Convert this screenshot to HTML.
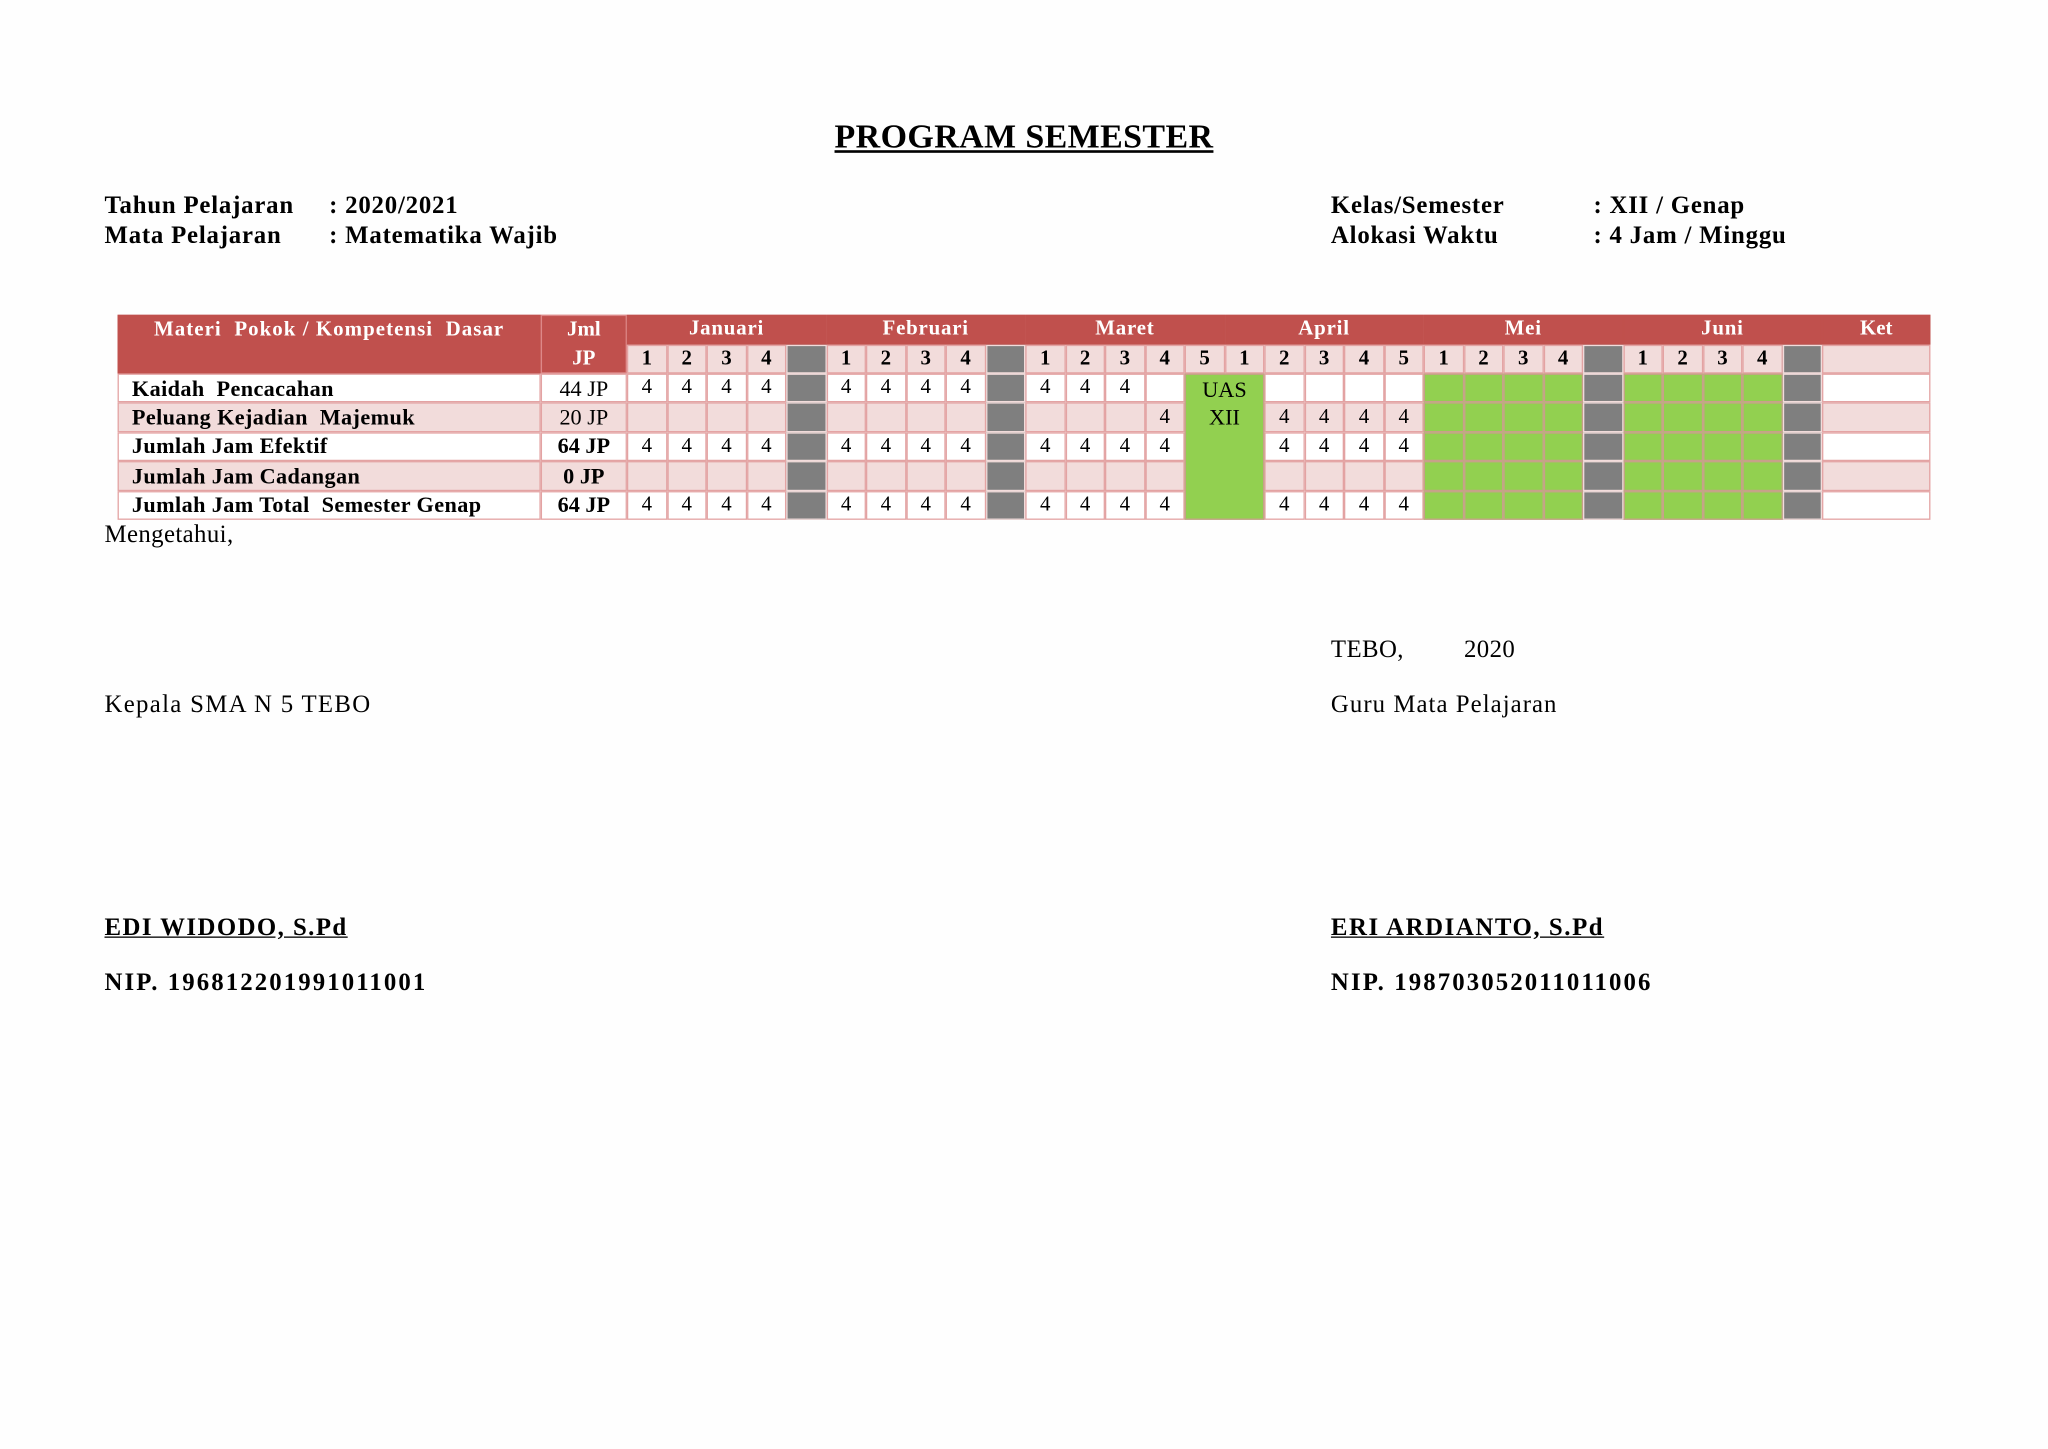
<!DOCTYPE html>
<html><head><meta charset="utf-8">
<style>
html,body{margin:0;padding:0;background:#fff;}
#page{position:absolute;left:0;top:0;width:1568px;height:1109px;transform:scale(1.30612);transform-origin:0 0;font-family:"Liberation Serif",serif;color:#000;background:#fefefe;}
.t{position:absolute;white-space:nowrap;line-height:1;}
.b{font-weight:bold;}
.i{letter-spacing:0.6px;}
.c{position:absolute;box-sizing:border-box;border:1px solid #e3a3a3;display:flex;align-items:center;justify-content:center;font-size:16px;line-height:1;}
</style></head><body>
<div id="page">
<div class="t b" style="left:0;width:1568px;text-align:center;top:92px;font-size:26px;letter-spacing:0.3px;"><span style="text-decoration:underline;">PROGRAM SEMESTER</span></div>
<div class="t b i" style="left:80px;top:148px;font-size:19px;">Tahun Pelajaran</div>
<div class="t b i" style="left:252px;top:148px;font-size:19px;">: 2020/2021</div>
<div class="t b i" style="left:80px;top:171px;font-size:19px;">Mata Pelajaran</div>
<div class="t b i" style="left:252px;top:171px;font-size:19px;">: Matematika Wajib</div>
<div class="t b i" style="left:1019px;top:148px;font-size:19px;">Kelas/Semester</div>
<div class="t b i" style="left:1220px;top:148px;font-size:19px;">: XII / Genap</div>
<div class="t b i" style="left:1019px;top:171px;font-size:19px;">Alokasi Waktu</div>
<div class="t b i" style="left:1220px;top:171px;font-size:19px;">: 4 Jam / Minggu</div>
<div id="tbl"></div>
<div class="t" style="left:80px;top:400px;font-size:19px;letter-spacing:0.3px;">Mengetahui,</div>
<div class="t" style="left:1019px;top:488px;font-size:19px;letter-spacing:0.3px;">TEBO,<span style="margin-left:46px">2020</span></div>
<div class="t" style="left:80px;top:530px;font-size:19px;letter-spacing:1px;">Kepala SMA N 5 TEBO</div>
<div class="t" style="left:1019px;top:530px;font-size:19px;letter-spacing:0.8px;">Guru Mata Pelajaran</div>
<div class="t b" style="left:80px;top:701px;font-size:19px;text-decoration:underline;letter-spacing:1.1px;">EDI WIDODO, S.Pd</div>
<div class="t b" style="left:1019px;top:701px;font-size:19px;text-decoration:underline;letter-spacing:1.2px;">ERI ARDIANTO, S.Pd</div>
<div class="t b" style="left:80px;top:743px;font-size:19px;letter-spacing:1.6px;">NIP. 196812201991011001</div>
<div class="t b" style="left:1019px;top:743px;font-size:19px;letter-spacing:1.6px;">NIP. 198703052011011006</div>
</div>
<script>
const months = ["Januari","Februari","Maret","April","Mei","Juni"];
const monthWeeks = [[1,2,3,4,"g"],[1,2,3,4,"g"],[1,2,3,4,5],[1,2,3,4,5],[1,2,3,4,"g"],[1,2,3,4,"g"]];
const rowNames = ["Kaidah  Pencacahan","Peluang Kejadian  Majemuk","Jumlah Jam Efektif","Jumlah Jam Cadangan","Jumlah Jam Total  Semester Genap"];
const rowJP = ["44 JP","20 JP","64 JP","0 JP","64 JP"];
const rowBold = [false,false,true,true,true];
const r1 = ["4","4","4","4","G","4","4","4","4","G","4","4","4","","U","U","","","","","E","E","E","E","G","E","E","E","E","G"];
const r2 = ["","","","","G","","","","","G","","","","4","U","U","4","4","4","4","E","E","E","E","G","E","E","E","E","G"];
const r3 = ["4","4","4","4","G","4","4","4","4","G","4","4","4","4","U","U","4","4","4","4","E","E","E","E","G","E","E","E","E","G"];
const r4 = ["","","","","G","","","","","G","","","","","U","U","","","","","E","E","E","E","G","E","E","E","E","G"];
const r5 = ["4","4","4","4","G","4","4","4","4","G","4","4","4","4","U","U","4","4","4","4","E","E","E","E","G","E","E","E","E","G"];
const rows = [r1,r2,r3,r4,r5];

const tbl = document.getElementById('tbl');
const X0=90, XJP=414, XW=480, CW=30.5, XKET=1395, XEND=1478;
const Y0=241, H1=22.5, RH=22.4;
const RED="#c0504d", PINK="#f2dcdb", GRAY="#7f7f7f", GREEN="#92d050";
function cell(x,y,w,h,bg,txt,style){
  const d=document.createElement('div');
  d.className='c';
  d.style.left=x+'px';d.style.top=y+'px';d.style.width=w+'px';d.style.height=h+'px';
  d.style.background=bg;
  if(style) d.style.cssText+=style;
  if(txt!==undefined) d.textContent=txt;
  tbl.appendChild(d);
  return d;
}
let h=cell(X0,Y0,XJP-X0,H1*2,RED,"Materi  Pokok / Kompetensi  Dasar","color:#fff;font-weight:bold;align-items:flex-start;padding-top:3px;white-space:pre;letter-spacing:0.8px;border-color:"+RED);


h=cell(XJP,Y0,XW-XJP,H1*2,RED,"Jml\nJP","color:#fff;font-weight:bold;white-space:pre;text-align:center;line-height:22px;border-color:#d88;");


let col=0;
months.forEach((m,i)=>{
  const n=monthWeeks[i].length;
  const mx=XW+col*CW;
  const mh=cell(mx,Y0,n*CW,H1,RED,m,"color:#fff;font-weight:bold;letter-spacing:0.6px;border-color:"+RED);
  
  
  monthWeeks[i].forEach((w,j)=>{
    const x=XW+(col+j)*CW;
    const wc=cell(x,Y0+H1,CW,H1,w==="g"?GRAY:PINK,w==="g"?"":String(w),"font-weight:bold;"+(w==="g"?"border-color:"+PINK:""));
    
    
  });
  col+=n;
});
h=cell(XKET,Y0,XEND-XKET,H1,RED,"Ket","color:#fff;font-weight:bold;border-color:"+RED);


h=cell(XKET,Y0+H1,XEND-XKET,H1,PINK,"");


const YB=Y0+2*H1;
rows.forEach((r,ri)=>{
  const y=YB+ri*RH;
  const bg=ri%2===0?"#fff":PINK;
  const fw=rowBold[ri]?"bold":"normal";
  let c=cell(X0,y,XJP-X0,RH,bg,rowNames[ri],"justify-content:flex-start;padding-left:10px;font-weight:bold;font-size:17px;white-space:pre;letter-spacing:0.3px;");
  
  
  c=cell(XJP,y,XW-XJP,RH,bg,rowJP[ri],"font-weight:"+fw+";font-size:17px;");
  
  
  r.forEach((v,ci)=>{
    const x=XW+ci*CW;
    if(v==="U") return;
    let b=bg,t=v,st="";
    if(v==="G"){b=GRAY;t="";st="border-color:"+PINK;}
    if(v==="E"){b=GREEN;t="";st="border-color:#c8a08a";}
    const wc=cell(x,y,CW,RH,b,t,st);
    
    
  });
  c=cell(XKET,y,XEND-XKET,RH,bg,"");
  
  
});
const ui=r1.indexOf("U");
const u=cell(XW+ui*CW,YB,2*CW,5*RH,GREEN,"UAS\nXII","white-space:pre;text-align:center;align-items:flex-start;padding-top:1px;line-height:21px;font-size:17px;border-color:#c8a08a");


</script>
</body></html>
